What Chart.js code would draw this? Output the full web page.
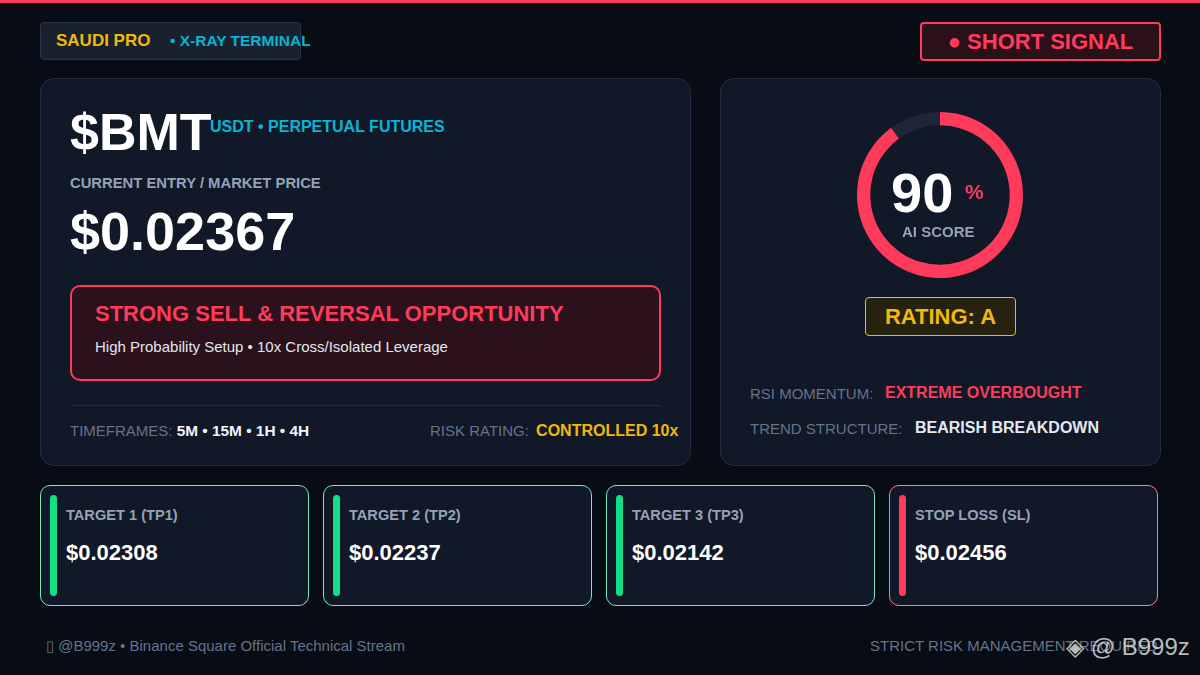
<!DOCTYPE html>
<html>
<head>
<meta charset="utf-8">
<script src="https://cdn.jsdelivr.net/npm/chart.js@4"></script>
<style>
  html, body { margin: 0; padding: 0; }
  body {
    width: 1200px; height: 675px; overflow: hidden; position: relative;
    background: #080c14;
    font-family: "Liberation Sans", Arial, Helvetica, sans-serif;
    color: #e2e8f0;
  }
  .abs { position: absolute; white-space: nowrap; }
  .topbar { left: 0; top: 0; width: 1200px; height: 3px; background: #ff3b5c; }
  .brand { left: 40px; top: 22px; width: 261px; height: 38px; background: #19212f; border: 1px solid #2a3446; border-radius: 4px; box-sizing: border-box; }
  .signal { left: 920px; top: 22px; width: 241px; height: 39px; background: #2a1019; border: 2px solid #ff3b5c; border-radius: 4px; box-sizing: border-box; color: #ff3b5c; font-weight: bold; font-size: 22px; text-align: center; line-height: 35px; }
  .card { background: #111827; border: 1px solid #232d3f; border-radius: 14px; box-sizing: border-box; }
  .alert { left: 70px; top: 285px; width: 591px; height: 96px; background: #2a111b; border: 2px solid #ff3b5c; border-radius: 10px; box-sizing: border-box; }
  .tcard { top: 485px; width: 269px; height: 121px; background: #111827; border-radius: 10px; box-sizing: border-box; border: 1px solid #7ee6bd; }
  .tcard.sl { border-color: #f77f98; }
  .bar { left: 9px; top: 9px; width: 7px; height: 101px; border-radius: 4px; background: #12e089; }
  .sl .bar { background: #ff3b5c; }
  .tlabel { left: 25px; top: 21px; font-size: 14.6px; font-weight: bold; color: #94a3b8; }
  .tval { left: 25px; top: 54px; font-size: 22px; font-weight: bold; color: #ffffff; }
  #gauge { left: 857px; top: 112px; width: 166px; height: 166px; }
</style>
</head>
<body>
<div class="abs topbar"></div>

<div class="abs brand"></div>
<div class="abs" style="left:56px;top:31px;font-size:17px;font-weight:bold;color:#f0b90b;">SAUDI PRO</div>
<div class="abs" style="left:170px;top:32px;font-size:15.5px;font-weight:bold;color:#06b6d4;">• X-RAY TERMINAL</div>

<div class="abs signal">● SHORT SIGNAL</div>

<!-- left card -->
<div class="abs card" style="left:40px;top:78px;width:651px;height:388px;"></div>
<div class="abs" style="left:70px;top:102px;font-size:52px;font-weight:bold;color:#ffffff;">$BMT</div>
<div class="abs" style="left:210px;top:118px;font-size:16px;font-weight:bold;color:#06b6d4;">USDT • PERPETUAL FUTURES</div>
<div class="abs" style="left:70px;top:175px;font-size:14.8px;font-weight:bold;color:#94a3b8;">CURRENT ENTRY / MARKET PRICE</div>
<div class="abs" style="left:70px;top:200px;font-size:54px;font-weight:bold;color:#ffffff;">$0.02367</div>

<div class="abs alert"></div>
<div class="abs" style="left:95px;top:301px;font-size:22px;font-weight:bold;color:#ff3b5c;">STRONG SELL &amp; REVERSAL OPPORTUNITY</div>
<div class="abs" style="left:95px;top:338px;font-size:15px;color:#e2e8f0;">High Probability Setup • 10x Cross/Isolated Leverage</div>

<div class="abs" style="left:70px;top:405px;width:591px;height:1px;background:#222c3d;"></div>
<div class="abs" style="left:70px;top:422px;font-size:15px;color:#64748b;">TIMEFRAMES: <b style="color:#f1f5f9;font-size:15.4px;">5M • 15M • 1H • 4H</b></div>
<div class="abs" style="left:430px;top:422px;font-size:15px;color:#64748b;">RISK RATING: <b style="color:#f0b90b;margin-left:3px;font-size:16px;">CONTROLLED 10x</b></div>

<!-- right card -->
<div class="abs card" style="left:720px;top:78px;width:441px;height:388px;"></div>
<div class="abs" id="gauge"><canvas id="scoreChart"></canvas></div>
<div class="abs" style="left:891px;top:160px;font-size:56px;font-weight:bold;color:#ffffff;">90</div>
<div class="abs" style="left:965px;top:180px;font-size:21px;font-weight:bold;color:#ff3b5c;">%</div>
<div class="abs" style="left:902px;top:223px;font-size:15px;font-weight:bold;color:#94a3b8;">AI SCORE</div>

<div class="abs" style="left:865px;top:297px;width:151px;height:39px;background:#27220f;border:1px solid #f0b90b;border-radius:4px;box-sizing:border-box;color:#f0b90b;font-size:22px;font-weight:bold;text-align:center;line-height:37px;">RATING: A</div>

<div class="abs" style="left:750px;top:385px;font-size:15px;color:#64748b;">RSI MOMENTUM:</div>
<div class="abs" style="left:885px;top:384px;font-size:16px;font-weight:bold;color:#ff3b5c;">EXTREME OVERBOUGHT</div>
<div class="abs" style="left:750px;top:420px;font-size:15px;color:#64748b;">TREND STRUCTURE:</div>
<div class="abs" style="left:915px;top:419px;font-size:16px;font-weight:bold;color:#e2e8f0;">BEARISH BREAKDOWN</div>

<!-- target cards -->
<div class="abs tcard" style="left:40px;"><div class="abs bar"></div><div class="abs tlabel">TARGET 1 (TP1)</div><div class="abs tval">$0.02308</div></div>
<div class="abs tcard" style="left:323px;"><div class="abs bar"></div><div class="abs tlabel">TARGET 2 (TP2)</div><div class="abs tval">$0.02237</div></div>
<div class="abs tcard" style="left:606px;"><div class="abs bar"></div><div class="abs tlabel">TARGET 3 (TP3)</div><div class="abs tval">$0.02142</div></div>
<div class="abs tcard sl" style="left:889px;"><div class="abs bar"></div><div class="abs tlabel">STOP LOSS (SL)</div><div class="abs tval">$0.02456</div></div>

<!-- footer -->
<div class="abs" style="left:46px;top:637px;font-size:15px;color:#64748b;">▯ @B999z • Binance Square Official Technical Stream</div>
<div class="abs" style="left:870px;top:637px;font-size:15px;color:#64748b;">STRICT RISK MANAGEMENT REQUIRED</div>
<div class="abs" style="left:1066px;top:633px;font-size:24px;color:rgba(220,220,220,0.85);">◈ @ B999z</div>

<script>
const scoreLabels = ['AI Score', 'Remaining'];
const scoreValues = [90, 10];
const scoreColors = ['#ff3b5c', '#1e2637'];

window.onload = function () {
    const ctx = document.getElementById('scoreChart').getContext('2d');
    new Chart(ctx, {
        type: 'doughnut',
        data: {
            labels: scoreLabels,
            datasets: [{
                data: scoreValues,
                backgroundColor: scoreColors,
                borderWidth: 0
            }]
        },
        options: {
            responsive: true,
            maintainAspectRatio: false,
            animation: false,
            cutout: '84%',
            layout: { padding: 0 },
            plugins: {
                legend: { display: false },
                tooltip: { enabled: false }
            }
        }
    });
};
</script>
</body>
</html>
